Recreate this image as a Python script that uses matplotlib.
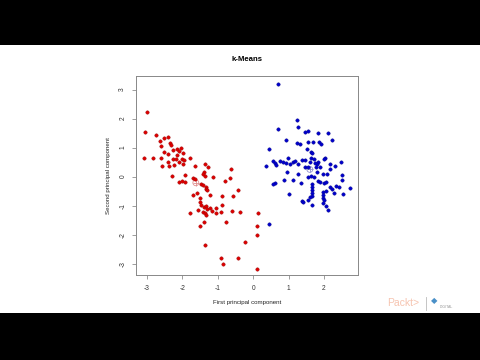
import matplotlib
matplotlib.use('Agg')
from matplotlib import pyplot as plt
from matplotlib.patches import Rectangle

# cluster 1 (red) - principal component scores
red_x = [-3.01, -3.05, -2.74, -2.53, -2.41, -2.64, -2.36, -2.31, -2.59, -2.03,
         -2.15, -2.10, -2.53, -2.27, -2.41, -2.15, -1.98, -3.07, -2.83, -2.59,
         -2.27, -2.19, -2.00, -1.94, -1.79, -2.41, -2.10, -2.57, -2.38, -2.24,
         -1.98, -1.65, -2.30, -1.93, -1.70, -1.65, -2.10, -2.00, -1.93, -1.37,
         -1.29, -1.40, -1.42, -1.37, -1.13, -0.64, -0.66, -0.80, -1.34, -1.32,
         -1.30, -1.46, -1.43, -1.21, -1.70, -1.60, -0.87, -0.57, -0.42, -1.49,
         -1.51, -1.46, -1.40, -1.34, -1.30, -1.23, -1.04, -0.87, -1.79, -1.56,
         -1.42, -1.35, -1.32, -1.15, -1.04, -0.90, -0.61, -0.38, 0.14, -1.40,
         -1.49, -0.78, 0.10, 0.11, -0.24, -1.35, -0.92, -0.85, -0.42, 0.11]
red_y = [2.24, 1.55, 1.44, 1.34, 1.37, 1.23, 1.15, 1.09, 1.07, 1.00,
         0.94, 0.89, 0.86, 0.92, 0.77, 0.74, 0.82, 0.65, 0.63, 0.63,
         0.61, 0.60, 0.61, 0.58, 0.66, 0.49, 0.51, 0.37, 0.37, 0.40,
         0.42, 0.37, 0.03, 0.05, -0.04, -0.09, -0.20, -0.16, -0.18, 0.42,
         0.34, 0.17, 0.08, 0.02, -0.01, 0.25, -0.06, -0.16, -0.35, -0.41,
         -0.47, -0.24, -0.29, -0.62, -0.62, -0.58, -0.66, -0.66, -0.47, -0.75,
         -0.87, -0.96, -1.04, -1.01, -1.10, -1.08, -1.08, -0.96, -1.24, -1.14,
         -1.22, -1.26, -1.33, -1.19, -1.25, -1.21, -1.19, -1.21, -1.25, -1.56,
         -1.71, -1.58, -1.70, -2.02, -2.26, -2.34, -2.80, -3.00, -2.81, -3.18]

# cluster 2 (blue)
blue_x = [0.71, 1.23, 0.71, 1.27, 1.46, 1.56, 1.84, 2.10, 2.22, 0.93,
          1.23, 1.33, 1.54, 1.70, 1.86, 1.92, 0.45, 1.51, 1.62, 1.66,
          2.04, 2.01, 0.99, 1.63, 1.72, 0.57, 0.61, 0.76, 0.85, 0.94,
          1.04, 1.13, 1.18, 1.37, 1.47, 1.61, 1.84, 1.81, 1.76, 2.17,
          2.48, 0.36, 0.64, 1.27, 1.46, 1.56, 1.78, 1.89, 2.17, 2.31,
          0.95, 1.27, 1.79, 1.98, 2.08, 2.50, 1.56, 1.63, 1.71, 0.87,
          1.13, 1.34, 1.84, 1.89, 1.99, 2.06, 2.50, 0.61, 0.57, 1.65,
          2.17, 2.24, 2.34, 2.41, 2.74, 1.65, 1.65, 1.96, 2.06, 2.29,
          2.55, 1.00, 1.65, 1.65, 1.98, 1.61, 1.56, 1.98, 2.00, 1.37,
          1.41, 1.66, 1.96, 2.06, 2.12, 0.44]
blue_y = [3.20, 1.95, 1.63, 1.70, 1.53, 1.58, 1.51, 1.51, 1.28, 1.25,
          1.17, 1.12, 1.18, 1.18, 1.18, 1.12, 0.94, 0.94, 0.86, 0.80,
          0.66, 0.60, 0.63, 0.66, 0.60, 0.53, 0.46, 0.55, 0.49, 0.47,
          0.43, 0.51, 0.55, 0.56, 0.57, 0.51, 0.51, 0.43, 0.48, 0.43,
          0.50, 0.36, 0.39, 0.43, 0.34, 0.32, 0.34, 0.32, 0.26, 0.36,
          0.17, 0.10, 0.17, 0.10, 0.09, 0.05, -0.01, 0.02, -0.02, -0.10,
          -0.12, -0.21, -0.14, -0.19, -0.21, -0.18, -0.12, -0.21, -0.26, -0.26,
          -0.35, -0.41, -0.33, -0.37, -0.40, -0.36, -0.45, -0.53, -0.49, -0.58,
          -0.59, -0.59, -0.55, -0.66, -0.64, -0.71, -0.80, -0.73, -0.82, -0.83,
          -0.87, -0.96, -0.91, -1.02, -1.16, -1.62]

# cluster centers
center_x = [-1.62, 1.60]
center_y = [-0.21, 0.25]

xticks = [-3, -2, -1, 0, 1, 2]
yticks = [-3, -2, -1, 0, 1, 2, 3]

plt.rcParams['font.family'] = ['Liberation Sans', 'DejaVu Sans']

fig = plt.figure(figsize=(4.8, 3.6), dpi=100)
fig.patch.set_facecolor('white')

# letterbox bars
fig.add_artist(Rectangle((0, 0.875), 1, 0.125, transform=fig.transFigure,
                         facecolor='black', edgecolor='none'))
fig.add_artist(Rectangle((0, 0), 1, 0.13, transform=fig.transFigure,
                         facecolor='black', edgecolor='none'))

ax = fig.add_axes([0.2833, 0.2361, 0.4625, 0.5528])
ax.scatter(red_x, red_y, s=6, color='#dd0000', edgecolors='#990000', linewidths=0.3, zorder=3)
ax.scatter(blue_x, blue_y, s=6, color='#0000cc', edgecolors='#000088', linewidths=0.3, zorder=3)
ax.scatter(center_x, center_y, s=18, marker='o', facecolors='none',
           edgecolors=['#e09090', '#9090d0'], linewidths=0.6, zorder=2)
ax.scatter(center_x, center_y, s=18, marker='+', color=['#e09090', '#9090d0'],
           linewidths=0.6, zorder=2)

ax.set_xlim(-3.31, 2.96)
ax.set_ylim(-3.39, 3.47)
ax.set_xticks(xticks)
ax.set_yticks(yticks)
ax.set_xticklabels([str(t) for t in xticks])
ax.set_yticklabels([str(t) for t in yticks], rotation=90, va='center')
ax.tick_params(labelsize=4.8, length=3, width=0.5, color='#777777', labelcolor='#333333', pad=4)
for sp in ax.spines.values():
    sp.set_color('#888888')
    sp.set_linewidth(0.7)

ax.set_title('k-Means', fontsize=5.6, fontweight='bold', pad=11)
ax.set_xlabel('First principal component', fontsize=4.4, color='#222222', labelpad=6)
ax.set_ylabel('Second principal component', fontsize=4.4, color='#222222', labelpad=6)

# watermark bottom right
fig.text(0.84, 0.158, 'Packt>', fontsize=7.5, color='#f6c4b0', ha='center', va='center')
fig.add_artist(plt.Line2D([0.888, 0.888], [0.14, 0.175], transform=fig.transFigure,
                          color='#bbbbbb', linewidth=0.6))
fig.text(0.905, 0.162, '\u25c6', fontsize=6, color='#4a90c8', ha='center', va='center')
fig.text(0.93, 0.147, 'DIGITAL', fontsize=2.5, color='#999999', ha='center', va='center')

fig.savefig('out.png', dpi=100)
